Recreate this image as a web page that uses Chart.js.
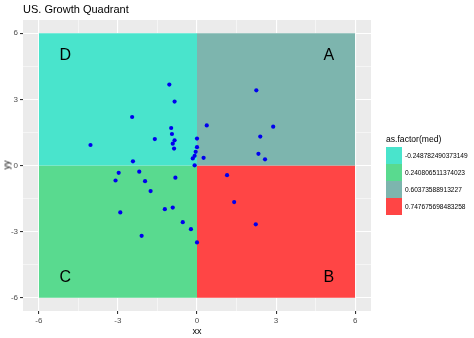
<!DOCTYPE html>
<html><head><meta charset="utf-8">
<script src="https://cdn.jsdelivr.net/npm/chart.js@4"></script>
<style>
html,body{margin:0;padding:0;background:#fff;}
#wrap{position:relative;width:474px;height:338px;font-family:"Liberation Sans",Arial,sans-serif;}
#title{position:absolute;left:23px;top:3px;font-size:11px;color:#000;}
#ylab{position:absolute;left:2px;top:160px;font-size:9px;color:#000;transform:rotate(-90deg);transform-origin:center;}
#legend{position:absolute;left:386px;top:134px;font-size:6.6px;color:#000;white-space:nowrap;}
#legend .t{font-size:8.6px;margin-bottom:3px;}
#legend .r{display:flex;align-items:center;height:17px;}
#legend .s{width:16px;height:17px;margin-right:3px;}
</style></head>
<body>
<div id="wrap">
<canvas id="c" width="474" height="338"></canvas>
<div id="title">US. Growth Quadrant</div>
<div id="ylab">yy</div>
<div id="legend"></div>
</div>
<script>
const xx = [-1.05,-0.85,-2.46,0.37,-0.98,-0.95,-1.60,-0.85,-4.04,-0.92,0.00,-0.87,0.00,-0.05,-2.43,-0.09,-0.16,0.25,-0.09,2.25,2.89,2.40,2.33,2.58,-2.97,-2.19,-3.09,-1.97,-0.82,-1.76,-2.91,-1.22,-0.92,-0.54,-0.23,-2.10,0.00,1.14,1.41,2.23];
const yy = [3.67,2.90,2.20,1.82,1.70,1.43,1.20,1.14,0.93,0.99,1.22,0.77,0.83,0.62,0.19,0.44,0.32,0.35,0.01,3.41,1.76,1.31,0.53,0.28,-0.33,-0.28,-0.68,-0.71,-0.55,-1.16,-2.13,-1.98,-1.91,-2.57,-2.89,-3.19,-3.49,-0.44,-1.66,-2.67];
const quadNames = ["D","C","A","B"];
const quadMed = ["-0.248782490373149","0.240806511374023","0.60373588913227","0.747675698483258"];
const quadColors = ["#49E4CC","#59DA8F","#7DB5AE","#FF4545"];
const quadX0 = [-6,-6,0,0];
const quadX1 = [0,0,6,6];
const quadY = [6,-6,6,-6];
const labelX = [-5,-5,5,5];
const labelY = [5,-5.1,5,-5.1];
const tickVals = [-6,-4.5,-3,-1.5,0,1.5,3,4.5,6];
const majorTicks = [-6,-3,0,3,6];

const datasets = [];
for (let i=0;i<4;i++){
  datasets.push({type:'line',data:[{x:quadX0[i],y:quadY[i]},{x:quadX1[i],y:quadY[i]}],
    backgroundColor:quadColors[i],borderWidth:0,pointRadius:0,fill:{value:0},order:2});
}
datasets.push({type:'scatter',data:xx.map((v,i)=>({x:v,y:yy[i]})),backgroundColor:'#0000EE',
  borderWidth:0,pointRadius:2.1,order:1});

const panelBg = {id:'panelBg',beforeDraw(ch){const a=ch.chartArea,c=ch.ctx;c.save();c.fillStyle='#EBEBEB';c.fillRect(a.left,a.top,a.right-a.left,a.bottom-a.top);c.restore();}};
const quadText = {id:'quadText',afterDatasetsDraw(ch){const c=ch.ctx,x=ch.scales.x,y=ch.scales.y;c.save();c.fillStyle='#000';c.font='16px "Liberation Sans", Arial, sans-serif';c.textAlign='center';c.textBaseline='middle';
  for(let i=0;i<4;i++){c.fillText(quadNames[i],x.getPixelForValue(labelX[i]),y.getPixelForValue(labelY[i]));}c.restore();}};

function axis(isX){
  return {type:'linear',min:-6.6,max:6.6,
    afterBuildTicks(s){s.ticks=tickVals.map(v=>({value:v}));},
    afterFit(s){ if(isX){s.height=26;} else {s.width=23;} },
    grid:{color:'#FFFFFF',lineWidth:c=>majorTicks.includes(c.tick&&c.tick.value)?1.1:0.5,
      tickColor:c=>majorTicks.includes(c.tick&&c.tick.value)?'#333333':'rgba(0,0,0,0)',tickLength:3,drawTicks:true},
    border:{display:false},
    ticks:{color:'#4D4D4D',font:{size:8,family:'"Liberation Sans", Arial, sans-serif'},padding:2,
      autoSkip:false,maxRotation:0,
      callback:v=>majorTicks.includes(v)?String(v):''},
    title:isX?{display:true,text:'xx',color:'#000',font:{size:9,family:'"Liberation Sans", Arial, sans-serif'},padding:{top:0,bottom:0}}:{display:false}
  };
}

new Chart(document.getElementById('c'),{
  data:{datasets},
  options:{responsive:false,animation:false,
    layout:{padding:{top:20,right:103,left:0,bottom:1}},
    plugins:{legend:{display:false},tooltip:{enabled:false}},
    scales:{x:axis(true),y:axis(false)}},
  plugins:[panelBg,quadText]
});

const lg=document.getElementById('legend');
let h='<div class="t">as.factor(med)</div>';
for(let i=0;i<4;i++){h+='<div class="r"><div class="s" style="background:'+quadColors[i]+'"></div>'+quadMed[i]+'</div>';}
lg.innerHTML=h;
</script>
</body></html>
